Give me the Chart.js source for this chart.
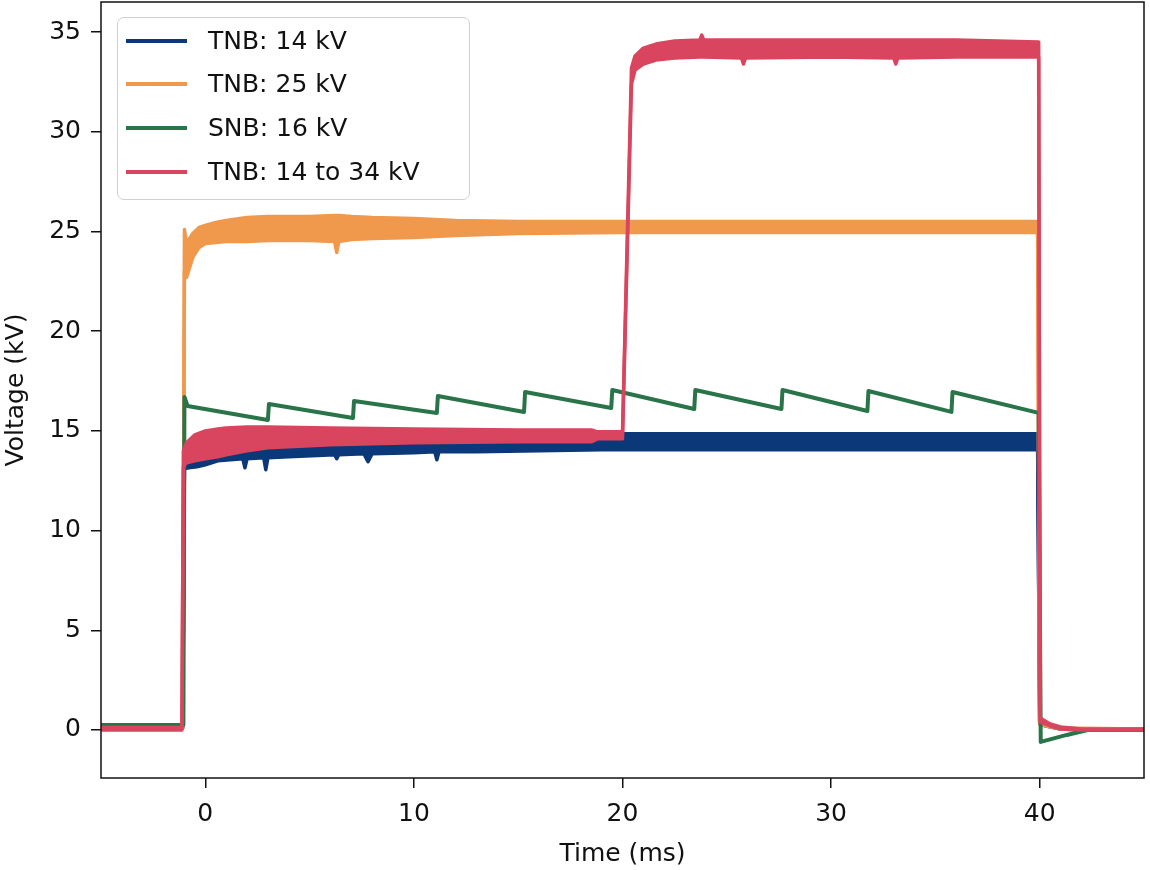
<!DOCTYPE html>
<html>
<head>
<meta charset="utf-8">
<script src="https://cdn.jsdelivr.net/npm/chart.js@4.4.1/dist/chart.umd.min.js"></script>
<style>
  html, body { margin: 0; padding: 0; background: #fff; }
  #wrap { position: relative; width: 1150px; height: 870px; }
  #legend {
    position: absolute; left: 117px; top: 17px; width: 353px; height: 183px;
    border: 1.5px solid #cfcfcf; border-radius: 7px; background: rgba(255,255,255,0.85);
    box-sizing: border-box; font-family: "DejaVu Sans", sans-serif; font-size: 25px; color: #111;
  }
  .row { position: absolute; left: 0; height: 30px; }
  .sw { position: absolute; left: 8px; width: 61px; height: 3.5px; }
  .lbl { position: absolute; left: 90px; white-space: nowrap; line-height: 30px; }
</style>
</head>
<body>
<div id="wrap">
  <canvas id="c" width="1150" height="870"></canvas>
  <div id="legend"></div>
</div>
<script>
// ---- Data ----
const seriesLabels = ["TNB: 14 kV", "TNB: 25 kV", "SNB: 16 kV", "TNB: 14 to 34 kV"];
const seriesColors = ["#0b3878", "#f0984c", "#2a7449", "#d9455e"];

const xTickValues = [0, 10, 20, 30, 40];
const yTickValues = [0, 5, 10, 15, 20, 25, 30, 35];

// TNB: 14 kV (noisy band: upper / lower envelope)
const blueX  = [-5, -1.08, -1.0, -0.8, -0.4, 0, 0.6, 1.8, 1.9, 2.0, 2.8, 2.9, 3.0, 4, 6.2, 6.3, 6.4, 7.6, 7.8, 8.0, 10, 11.0, 11.1, 11.2, 13, 16, 19, 20, 25, 30, 35, 39.9, 40.0, 40.3, 41, 42, 45];
const blueHi = [0.2, 0.2, 13.9, 14.0, 14.2, 14.3, 14.4, 14.5, 14.5, 14.5, 14.55, 14.55, 14.55, 14.6, 14.65, 14.65, 14.65, 14.7, 14.7, 14.7, 14.7, 14.75, 14.75, 14.75, 14.75, 14.8, 14.85, 14.85, 14.85, 14.85, 14.85, 14.85, 0.4, 0.3, 0.1, 0.05, 0.05];
const blueLo = [0.1, 0.1, 13.1, 13.15, 13.2, 13.3, 13.5, 13.6, 13.15, 13.6, 13.65, 13.05, 13.65, 13.7, 13.8, 13.6, 13.8, 13.85, 13.45, 13.85, 13.9, 13.95, 13.55, 13.95, 13.95, 14.0, 14.05, 14.05, 14.05, 14.05, 14.05, 14.05, 0.3, 0.2, 0.05, 0.0, 0.0];

// TNB: 25 kV
const orangeX  = [-5, -1.08, -1.0, -0.9, -0.6, -0.3, 0, 0.5, 1, 2, 3, 4, 5, 6.2, 6.3, 6.4, 7, 8, 10, 12, 15, 20, 25, 30, 35, 39.9, 40.0, 40.3, 41, 45];
const orangeHi = [0.2, 0.2, 25.1, 24.4, 24.9, 25.2, 25.3, 25.45, 25.55, 25.7, 25.75, 25.75, 25.75, 25.8, 25.8, 25.8, 25.75, 25.7, 25.65, 25.55, 25.5, 25.5, 25.5, 25.5, 25.5, 25.5, 0.4, 0.3, 0.1, 0.05];
const orangeLo = [0.1, 0.1, 23.0, 22.7, 23.7, 24.2, 24.4, 24.45, 24.5, 24.5, 24.55, 24.55, 24.55, 24.5, 23.95, 24.5, 24.6, 24.65, 24.7, 24.8, 24.9, 24.95, 24.95, 24.95, 24.95, 24.95, 0.3, 0.2, 0.05, 0.0];

// SNB: 16 kV (sawtooth)
const greenX = [-5, -1.05, -1.0, -0.85, 3.0, 3.05, 7.08, 7.13, 11.1, 11.15, 15.28, 15.33, 19.46, 19.51, 23.44, 23.49, 27.62, 27.67, 31.74, 31.79, 35.77, 35.82, 39.95, 40.05, 41.3, 42.3, 45];
const greenY = [0.25, 0.25, 16.7, 16.25, 15.55, 16.35, 15.65, 16.5, 15.9, 16.75, 15.95, 16.95, 16.15, 17.05, 16.1, 17.05, 16.1, 17.05, 16.0, 17.0, 15.95, 16.95, 15.9, -0.6, -0.25, 0.0, 0.0];

// TNB: 14 to 34 kV
const redX  = [-5, -1.12, -1.05, -0.9, -0.5, 0, 0.6, 1, 2, 3, 6, 10, 15, 18.5, 18.8, 19.95, 20.0, 20.43, 20.6, 21, 21.6, 22.5, 23.7, 23.8, 23.9, 25.7, 25.8, 25.9, 30, 33.0, 33.1, 33.2, 36, 39.95, 40.02, 40.5, 41, 42, 45];
const redHi = [0.12, 0.12, 14.0, 14.4, 14.8, 15.0, 15.1, 15.15, 15.2, 15.2, 15.15, 15.1, 15.05, 15.05, 14.95, 14.95, 14.95, 33.2, 33.8, 34.2, 34.4, 34.55, 34.6, 34.85, 34.6, 34.6, 34.6, 34.6, 34.6, 34.6, 34.6, 34.6, 34.6, 34.5, 0.6, 0.3, 0.15, 0.05, 0.05];
const redLo = [0.0, 0.0, 13.2, 13.4, 13.5, 13.6, 13.7, 13.8, 14.0, 14.15, 14.3, 14.4, 14.45, 14.45, 14.6, 14.6, 14.6, 32.4, 33.1, 33.4, 33.6, 33.7, 33.75, 33.75, 33.75, 33.7, 33.4, 33.7, 33.75, 33.7, 33.4, 33.7, 33.75, 33.75, 0.4, 0.2, 0.05, 0.0, 0.0];

// ---- Chart ----
const pts = (xs, ys) => xs.map((x, i) => ({ x: x, y: ys[i] }));
function ds(label, xs, ys, color, fill, lw) {
  return {
    label: label, data: pts(xs, ys), borderColor: color, backgroundColor: color,
    borderWidth: lw || 3.5, pointRadius: 0, tension: 0, fill: fill,
    borderJoinStyle: 'round'
  };
}

const frame = {
  id: 'frame',
  afterDraw(chart) {
    const a = chart.chartArea, ctx = chart.ctx;
    ctx.save();
    ctx.strokeStyle = '#111';
    ctx.lineWidth = 1.5;
    ctx.strokeRect(a.left, a.top, a.right - a.left, a.bottom - a.top);
    ctx.restore();
  }
};

const font = { family: "DejaVu Sans", size: 25 };

new Chart(document.getElementById('c'), {
  type: 'line',
  data: {
    datasets: [
      ds(seriesLabels[3], redX, redHi, seriesColors[3], '+1'),
      ds(seriesLabels[3] + ' (low)', redX, redLo, seriesColors[3], false),
      ds(seriesLabels[2], greenX, greenY, seriesColors[2], false, 4),
      ds(seriesLabels[1], orangeX, orangeHi, seriesColors[1], '+1'),
      ds(seriesLabels[1] + ' (low)', orangeX, orangeLo, seriesColors[1], false),
      ds(seriesLabels[0], blueX, blueHi, seriesColors[0], '+1'),
      ds(seriesLabels[0] + ' (low)', blueX, blueLo, seriesColors[0], false)
    ]
  },
  options: {
    responsive: false,
    animation: false,
    layout: { padding: { top: 2, right: 6, left: 0, bottom: 0 } },
    plugins: { legend: { display: false }, tooltip: { enabled: false } },
    scales: {
      x: {
        type: 'linear', min: -5, max: 45,
        afterBuildTicks: s => { s.ticks = xTickValues.map(v => ({ value: v })); },
        afterFit: s => { s.height = 92; s.paddingLeft = 0; s.paddingRight = 0; },
        grid: { drawOnChartArea: false, drawTicks: true, tickLength: 10, color: '#111', lineWidth: 1.5 },
        border: { display: false },
        ticks: { font: font, color: '#111', padding: 11, maxRotation: 0 },
        title: { display: true, text: 'Time (ms)', font: font, color: '#111', padding: { top: 0, bottom: 1 } }
      },
      y: {
        type: 'linear', min: -2.41, max: 36.51,
        afterBuildTicks: s => { s.ticks = yTickValues.map(v => ({ value: v })); },
        afterFit: s => { s.width = 101; s.paddingTop = 0; s.paddingBottom = 0; },
        grid: { drawOnChartArea: false, drawTicks: true, tickLength: 10, color: '#111', lineWidth: 1.5 },
        border: { display: false },
        ticks: { font: font, color: '#111', padding: 10 },
        title: { display: true, text: 'Voltage (kV)', font: font, color: '#111', padding: { top: 1, bottom: 0 } }
      }
    }
  },
  plugins: [frame]
});

// HTML legend inside the plot (matplotlib-style)
const legend = document.getElementById('legend');
const rowCenters = [40, 83, 127, 171];
seriesLabels.forEach((lab, i) => {
  const row = document.createElement('div');
  row.className = 'row';
  row.style.top = (rowCenters[i] - 17 - 15) + 'px';
  const sw = document.createElement('div');
  sw.className = 'sw';
  sw.style.background = seriesColors[i];
  sw.style.top = '13px';
  const t = document.createElement('div');
  t.className = 'lbl';
  t.textContent = lab;
  row.appendChild(sw); row.appendChild(t);
  legend.appendChild(row);
});
</script>
</body>
</html>
